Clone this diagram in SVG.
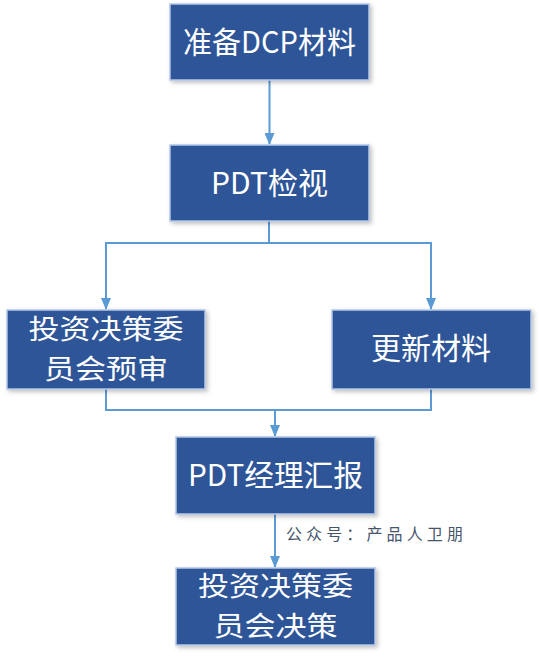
<svg xmlns="http://www.w3.org/2000/svg" width="539" height="657" viewBox="0 0 539 657">
<style>
.box{fill:#2F5597;stroke:#B4C7E7;stroke-width:1.5;filter:url(#sh)}
.t{fill:#fff;font-family:"Noto Sans CJK SC","Noto Sans",sans-serif;font-size:30px;text-anchor:middle}
.t2{fill:#fff;font-family:"Noto Sans CJK SC","Noto Sans",sans-serif;font-size:27px;text-anchor:middle}
.c{fill:none;stroke:#5B9BD5;stroke-width:2}
.lbl{fill:#44546A;font-family:"Noto Sans CJK SC","Noto Sans",sans-serif;font-size:16px}
</style>
<defs>
<filter id="sh" x="-10%" y="-10%" width="130%" height="130%">
<feDropShadow dx="2" dy="2" stdDeviation="2" flood-color="#000" flood-opacity="0.25"/>
</filter>
<marker id="ah" markerWidth="12" markerHeight="10" refX="11" refY="5" orient="auto" markerUnits="userSpaceOnUse">
<path d="M0,0 L12,5 L0,10 Z" fill="#5B9BD5"/>
</marker>
</defs>
<rect width="539" height="657" fill="#fff"/>
<g id="connectors">
<path class="c" d="M269.5,80 V144" marker-end="url(#ah)"/>
<path class="c" d="M269,221 V243 H106 V309" marker-end="url(#ah)"/>
<path class="c" d="M269,243 H431 V309" marker-end="url(#ah)"/>
<path class="c" d="M106,389 V410 H431 V389"/>
<path class="c" d="M275,410 V436" marker-end="url(#ah)"/>
<path class="c" d="M275,514 V567" marker-end="url(#ah)"/>
<text class="lbl" x="286" y="540" textLength="177">公众号：产品人卫朋</text>
</g>
<g id="n1">
<rect class="box" x="170" y="4" width="199" height="76"/>
<text class="t" x="269.5" y="53" textLength="173" lengthAdjust="spacingAndGlyphs">准备DCP材料</text>
</g>
<g id="n2">
<rect class="box" x="170" y="145" width="199" height="76"/>
<text class="t" x="269.5" y="194">PDT检视</text>
</g>
<g id="n3">
<rect class="box" x="7" y="310" width="198" height="79"/>
<text class="t2" x="106" y="339" textLength="155" lengthAdjust="spacingAndGlyphs">投资决策委</text>
<text class="t2" x="106" y="379" textLength="124" lengthAdjust="spacingAndGlyphs">员会预审</text>
</g>
<g id="n4">
<rect class="box" x="332" y="310" width="199" height="79"/>
<text class="t" x="431" y="359">更新材料</text>
</g>
<g id="n5">
<rect class="box" x="176" y="437" width="199" height="77"/>
<text class="t" x="275.5" y="486" textLength="175" lengthAdjust="spacingAndGlyphs">PDT经理汇报</text>
</g>
<g id="n6">
<rect class="box" x="176" y="568" width="199" height="77"/>
<text class="t2" x="275.5" y="596" textLength="155" lengthAdjust="spacingAndGlyphs">投资决策委</text>
<text class="t2" x="275.5" y="636" textLength="124" lengthAdjust="spacingAndGlyphs">员会决策</text>
</g>
</svg>
